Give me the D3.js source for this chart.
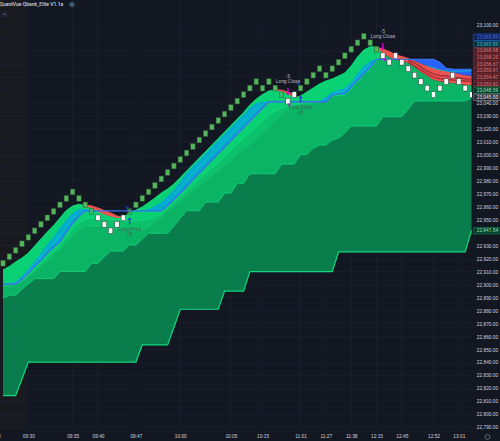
<!DOCTYPE html>
<html>
<head>
<meta charset="utf-8">
<script src="https://cdn.jsdelivr.net/npm/d3@7/dist/d3.min.js"></script>
<style>
html,body{margin:0;padding:0;background:#131722;overflow:hidden}
svg{display:block;font-family:Roboto,"Noto Sans",sans-serif}
.domain{display:none}
</style>
</head>
<body>
<svg id="c" width="500" height="441"></svg>
<script>
const title = "QuantVue Qbank_Elite V1.1a";
const brickMid = [22916.5,22921.5,22926.5,22931.5,22936.5,22941.5,22946.5,22951.5,22956.5,22961.5,22966.5,22971.5,22966.5,22961.5,22956.5,22951.5,22946.5,22941.5,22946.5,22951.5,22956.5,22961.5,22966.5,22971.5,22976.5,22981.5,22986.5,22991.5,22996.5,23001.5,23006.5,23011.5,23016.5,23021.5,23026.5,23031.5,23036.5,23041.5,23046.5,23051.5,23056.5,23051.5,23056.5,23051.5,23046.5,23041.5,23046.5,23051.5,23056.5,23061.5,23066.5,23061.5,23066.5,23071.5,23076.5,23081.5,23086.5,23091.5,23086.5,23081.5,23076.5,23071.5,23076.5,23071.5,23066.5,23061.5,23056.5,23051.5,23046.5,23051.5,23056.5,23061.5,23056.5,23051.5,23046.5];
const whiteBricks = [15,16,17,18,19,45,46,60,61,62,63,64,65,66,67,68,69,70,71,72,73,74];
const lowLine = [22814.4,22814.4,22814.4,22827.2,22840.3,22840.3,22840.3,22840.3,22840.3,22840.3,22840.3,22840.3,22840.3,22840.3,22840.3,22840.3,22840.3,22840.3,22840.3,22840.3,22840.3,22840.3,22853.5,22853.5,22853.5,22853.5,22853.5,22867,22881,22881,22881,22881,22881,22881,22881,22895,22895,22895,22895,22910,22910,22910,22910,22910,22910,22910,22910,22910,22910,22910,22910,22910,22910,22925.2,22925.2,22925.2,22925.2,22925.2,22925.2,22925.2,22925.2,22925.2,22925.2,22925.2,22925.2,22925.2,22925.2,22925.2,22925.2,22925.2,22925.2,22925.2,22925.2,22925.2,22941.54];
const stepLine = [22889.7,22891.8,22891.8,22896.6,22900.5,22904.6,22904.6,22904.6,22904.6,22910.1,22910.1,22910.1,22910.1,22910.1,22916.4,22916.4,22921.3,22925.9,22925.9,22925.9,22930.6,22930.6,22935.2,22939.6,22939.6,22939.6,22939.6,22945.2,22951.4,22957,22957,22957,22963.7,22963.7,22963.7,22970.6,22970.6,22978.1,22978.1,22985.5,22985.5,22985.5,22985.5,22985.5,22993,22993,22993,23000.2,23000.2,23005.3,23007.7,23007.7,23011.5,23013,23016.9,23022.3,23022.3,23022.3,23022.3,23022.3,23029.5,23029.5,23029.5,23029.5,23035.4,23041.6,23041.6,23041.6,23041.6,23041.6,23041.6,23041.6,23041.6,23041.6,23044.1];
const ribbonTop = [22911.3,22914,22917.5,22920.5,22924.4,22929.8,22935.2,22940.6,22945.6,22951.4,22957.2,22960.6,22962,22961,22958.7,22956.4,22954.1,22952.5,22951.4,22952.2,22955.2,22957.5,22959.9,22963.3,22966.8,22970.7,22973.7,22977.6,22982.6,22987.6,22992.6,22997.6,23002.6,23007.7,23012.7,23017.7,23022.7,23027.7,23032.7,23038.5,23043.1,23046.6,23049.3,23050.1,23048.9,23047,23043.9,23045.4,23048.5,23051.6,23054.7,23057,23058.6,23060.9,23063.2,23068.6,23075.5,23080.9,23083.5,23083.2,23078.6,23075.5,23073.2,23072.4,23070.9,23067.8,23064,23060.9,23057.8,23056.8,23056,23055.4,23054.8,23054.2,23053.8];
const ribbonBase = [22898.6,22899,22899.3,22902,22905.9,22909.7,22913.6,22917.5,22922.1,22926.7,22932.1,22937.5,22942.1,22944.4,22945.2,22945.2,22944.4,22943.7,22942.9,22942.1,22941.4,22941.4,22942.1,22944.4,22947.5,22951.4,22956.8,22960.6,22964.5,22968.3,22972.2,22976,22979.9,22983.8,22987.6,22991.5,22995.3,22999.9,23003.8,23007.7,23011.5,23016.1,23020.8,23026.2,23030.8,23034.7,23037,23038.5,23039.3,23040.1,23040.8,23041,23044.7,23045.4,23045.4,23050.1,23055.5,23060.9,23065.5,23071.7,23078.6,23075.5,23073.2,23072.4,23070.9,23067.8,23064,23060.9,23057.8,23056.8,23056,23055.4,23054.8,23054.2,23053.8];
const blueLine = [22900.5,22900.5,22900.5,22904.3,22909,22914.4,22919,22924.4,22929,22933.1,22940.6,22947.5,22952.9,22956.8,22956.8,22956.8,22956.8,22956.8,22956.8,22956.8,22956.8,22956.8,22956.8,22956.8,22956.8,22956.8,22961,22965.6,22970.7,22975.7,22981.1,22986.1,22991.1,22996.1,23001.1,23006.1,23011.1,23016.1,23021.2,23026.2,23031.2,23036.2,23041,23041,23041,23041,23041,23041,23041,23041,23041,23041,23046.2,23047,23047,23052.4,23057.8,23062.8,23067.8,23073.7,23073.7,23073.7,23073.7,23073.7,23073.7,23073.7,23073.7,23073.7,23073.7,23071.3,23066.7,23066.2,23066,23065.9,23065.89];
const cyanTop = [22900.5,22900.5,22902,22906.7,22912.1,22918.3,22924.4,22931.3,22936.7,22943.7,22949.8,22955.2,22958.3,22958.3,22956.8,22956.8,22956.8,22956.8,22956.8,22956.8,22956.8,22956.8,22956.8,22958.3,22960.7,22963.7,22968.3,22973,22979.5,22986.1,22991.1,22996.1,23001.1,23006.1,23011.1,23016.1,23021.2,23026.2,23031.2,23036.2,23040.1,23041,23041,23041,23041,23041,23041,23041,23041,23041,23041.6,23044.7,23048.6,23050.1,23051.6,23056.2,23063.2,23068.6,23072.4,23073.7,23073.7,23073.7,23073.7,23073.7,23073.7,23073.7,23073.7,23073.7,23073.7,23071.3,23066.7,23066.2,23066,23065.9,23065.89];
const lightLow = [22900.5,22900.5,22901,22903.1,22907.5,22912,22916.3,22921,22925.5,22930,22936,22942.5,22947.5,22950.5,22951,22951,22950.6,22950.2,22949.8,22949.4,22949,22949,22949.4,22950.6,22952,22954,22958.9,22963.1,22967.6,22972,22976.7,22981.1,22985.5,22990,22994.4,22998.8,23003.2,23008,23012.5,23017,23021.4,23026.2,23031,23033.6,23036,23038,23039,23040,23040.5];
const lightCyan = [null,null,null,22905.5,22910.5,22916.3,22921.7,22927.8,22932.8,22938.4,22945,22951,22955.5,null,null,null,null,null,null,null,null,null,null,null,null,null,null,22969.3,22975,22981,22986,22991,22996,23001,23006,23011,23016,23021,23026,23031,23036,23038.6,null,null,null,null,null,null,null,null,null,null,23047,23048.5,23049.3,23054.3,23060.5,23065.7,23070];
const redStartDip = 13;
const redTopDip = [22961.8,22961,22959.5,22957.5,22955.6,22953.3,22952.2];
const redStartMid = 43;
const redTopMid = [23050.6,23050.2,23049,23047];
const redStartEnd = 59;
const redTopEnd = [23083.2,23082.1,23080.1,23077.4,23076.3,23074.7,23072.8,23070.5,23068.6,23067,23066,23065,23063.5,23062.5,23061.5,23060.98];
const darkStart = 64;
const darkRedA = [23073.2,23070.9,23067.8,23064.7,23062.4,23061.2,23060.9,23060,23059.4,23058.8,23058.2];
const darkRedB = [23071.5,23068.5,23065.5,23062.5,23060,23058.8,23058.3,23057.8,23057.4,23057,23056.67];
const tealStart = 67;
const tealTrail = [23069,23067,23065.5,23064.7,23064.5,23064.5,23064.7,23064.8];
const gridTicks = d3.range(22790, 23101, 10);
const priceTicks = [22790,22800,22810,22820,22830,22840,22850,22860,22870,22880,22890,22900,22910,22920,22930,22950,22960,22970,22980,22990,23000,23010,23020,23030,23040,23100];
const timeLabels = ["2","09:30","09:35","09:40","09:47","10:00","10:05","10:15","11:01","11:27","11:38","12:15","12:45","12:52","13:01"];
const timeIndex = [-0.6,4,11,15,21,28,36,41,47,51,55,59,63,68,72];
const priceTags = [23065.89,23065.89,23060.98,23058.20,23056.67,23055.91,23054.47,23053.82,23048.59,23045.00];
const tagOrderY = [37.3,44.3,50.7,57.3,64,70.7,77.3,84,90.3,97.3];
const tagKinds = ["blue","teal","red","red","red","red","red","red","green","grey"];
const lowTag = 22941.54;
const closeMarks = [{i:45,level:23046.5,text:"Long Close",qty:"-5"},{i:60,level:23087,text:"Long Close",qty:"-5"}];
const entryMarks = [{i:20,level:22951.4,text:"Long Entry",qty:"+5"},{i:47,level:23045.4,text:"Long Entry",qty:"+5"}];
const smallMagenta = [[45.3,23038.5],[60.4,23073.5]];
const smallBlue = [[19.7,22959.3],[46.7,23055]];

const W=500,H=441,right=472,bottom=430;
const svg=d3.select("#c");
const x=d3.scaleLinear().domain([0,74]).range([3,471.5]);
const y=d3.scaleLinear().domain([22790,23100]).range([427.3,25.23]);
const n=brickMid.length, idx=d3.range(n);

svg.append("rect").attr("width",W).attr("height",H).attr("fill","#131722");
svg.append("rect").attr("width",x(3.85)).attr("height",bottom).attr("fill","#181a20");

const grid=svg.append("g");
grid.selectAll(".h").data(gridTicks).join("line").attr("x1",0).attr("x2",right)
  .attr("y1",d=>y(d)).attr("y2",d=>y(d)).attr("stroke","#1c2130").attr("stroke-width",.8);
grid.selectAll(".v").data(timeIndex.slice(1)).join("line").attr("y1",0).attr("y2",bottom)
  .attr("x1",d=>x(d)).attr("x2",d=>x(d)).attr("stroke","#1c2130").attr("stroke-width",.8);

svg.append("defs").append("clipPath").attr("id","plot").append("rect").attr("width",right).attr("height",bottom);
const plot=svg.append("g").attr("clip-path","url(#plot)");

const band=(hi,lo,start=0)=>d3.area().x((d,i)=>x(i+start)).y1(d=>y(hi(d))).y0(d=>y(lo(d)));
const pairs=(a,b)=>a.map((v,i)=>[v,b[i]]);
const fill=(a,b,c,start=0,op=1)=>plot.append("path").datum(pairs(a,b))
   .attr("d",band(d=>d[0],d=>d[1],start)).attr("fill",c).attr("fill-opacity",op);
const line=(a,c,w,start=0,op=1)=>plot.append("path").datum(a)
   .attr("d",d3.line().defined(d=>d!=null).x((d,i)=>x(i+start)).y(d=>y(d)))
   .attr("fill","none").attr("stroke",c).attr("stroke-width",w).attr("stroke-opacity",op);

fill(stepLine,lowLine,"#0a7d4c");
fill(ribbonBase,stepLine,"#0ab464");
fill(ribbonTop,ribbonBase,"#0bc26b");
fill(ribbonTop.slice(0,lightLow.length),lightLow,"#0ad174");
fill(ribbonTop.slice(lightLow.length-1),ribbonBase.slice(lightLow.length-1),"#0ad174",lightLow.length-1);
fill(cyanTop,blueLine,"#02abd0");
line(lightLow,"#2fe08e",.6,0,.6);
line(lightCyan,"#22d6a8",.7,0,.8);
line(ribbonTop.slice(0,60),"#10e07c",.8);
line(ribbonBase.slice(0,52),"#1fd884",.8,0,.7);

fill(redTopDip,ribbonTop.slice(redStartDip,redStartDip+redTopDip.length),"#ef5350",redStartDip);
fill(redTopMid,ribbonTop.slice(redStartMid,redStartMid+redTopMid.length),"#ef5350",redStartMid);
fill(redTopEnd,ribbonTop.slice(redStartEnd),"#ef5350",redStartEnd);
const blueSpan=blueLine.slice(redStartEnd);
fill(blueSpan,blueSpan.map((b,i)=>Math.min(b,redTopEnd[i])),"#2962ff",redStartEnd);
line(darkRedA,"#a92f3b",1.5,darkStart);
line(darkRedB,"#a92f3b",1.5,darkStart);
line(tealTrail,"#12b8c8",1,tealStart);

line(lowLine,"#10d87c",1.2);
line(stepLine,"#12cf78",1);
line(blueLine,"#3670f0",1.3);

const white=new Set(whiteBricks);
plot.selectAll(".brick").data(idx).join("rect")
  .attr("x",i=>x(i)-2.2).attr("width",4.4)
  .attr("y",i=>y(brickMid[i]+2.2))
  .attr("height",y(22790)-y(22794.4))
  .attr("fill",i=>white.has(i)?"#fafafa":"#55b55c")
  .attr("fill-opacity",i=>(!white.has(i)&&[14,20,44].includes(i))?.55:1)
  .attr("stroke",i=>white.has(i)?"#2a3a35":"#2c5c35").attr("stroke-width",.5);

const arrow=(g,cx,topY,botY,dir,c,w=1.4,h=2)=>{
  g.append("line").attr("x1",cx).attr("x2",cx).attr("y1",topY).attr("y2",botY).attr("stroke",c).attr("stroke-width",w);
  const tip=dir>0?botY:topY;
  g.append("path").attr("d",d3.line()([[cx-h,tip-dir*h],[cx,tip+dir*.4],[cx+h,tip-dir*h]])).attr("fill",c);
};
const ann=svg.append("g").attr("clip-path","url(#plot)");
closeMarks.forEach(m=>{
  const cx=x(m.i), ty=m.i===45?y(m.level)-7.5:y(m.level);
  arrow(ann,cx,ty+1,ty+7.5,1,"#d500d8");
  ann.append("text").attr("x",cx).attr("y",ty-5.5).attr("text-anchor","middle").attr("dy",".35em")
    .attr("font-size",4.9).attr("fill","#b2b5be").text(m.text);
  ann.append("text").attr("x",cx).attr("y",ty-11).attr("text-anchor","middle").attr("dy",".35em")
    .attr("font-size",4.9).attr("fill","#b2b5be").text(m.qty);
});
entryMarks.forEach(m=>{
  const cx=x(m.i), ty=y(m.level);
  arrow(ann,cx,ty,ty+6.5,-1,"#1c46c8");
  ann.append("text").attr("x",cx).attr("y",ty+11).attr("text-anchor","middle").attr("dy",".35em")
    .attr("font-size",4.9).attr("fill","#3f5f52").text(m.text);
  ann.append("text").attr("x",cx).attr("y",ty+16.5).attr("text-anchor","middle").attr("dy",".35em")
    .attr("font-size",4.9).attr("fill","#3f5f52").text(m.qty);
});
const tri=d=>d3.line()([[x(d[0])-1.2,y(d[1])-2],[x(d[0])+1.2,y(d[1])],[x(d[0])-1.2,y(d[1])+2]]);
ann.selectAll(".sm").data(smallMagenta).join("path").attr("d",tri).attr("fill","#d500d8");
ann.selectAll(".sb").data(smallBlue).join("path").attr("d",tri).attr("fill","#1c46c8");

// price axis
const axisY=svg.append("g").attr("transform",`translate(${right+4.8},0)`)
  .call(d3.axisRight(y).tickValues(priceTicks).tickFormat(d3.format(",.2f")).tickSize(0).tickPadding(0));
axisY.selectAll("text").attr("font-size",4.8).attr("fill","#d1d4dc").attr("font-weight",500);

// time axis
const axisX=svg.append("g").attr("transform",`translate(0,434.6)`)
  .call(d3.axisBottom(x).tickValues(timeIndex).tickFormat((d,i)=>timeLabels[i]).tickSize(0).tickPadding(0));
axisX.selectAll("text").attr("font-size",4.8).attr("fill","#d1d4dc").attr("font-weight",500);

// price tags
const tagStyle={blue:["#10204e","#2962ff","#3a67d8"],teal:["#06303c","#0f7f8f","#3fa9b8"],red:["#4d1f26","#8a2c34","#d66a6a"],green:["#073d2a","#0b8a55","#7fd8a8"],grey:["#2a2c33","#9598a1","#d1d4dc"]};
const tags=svg.append("g");
const drawTag=(label,cy,s)=>{
  tags.append("rect").attr("x",right+1.3).attr("y",cy-3.2).attr("width",W-right-1.3).attr("height",6.4).attr("rx",.8)
    .attr("fill",s[0]).attr("stroke",s[1]).attr("stroke-width",.6);
  tags.append("text").attr("x",right+4.8).attr("y",cy).attr("dy",".35em").attr("font-size",4.8).attr("fill",s[2]).attr("font-weight",500)
    .text(d3.format(",.2f")(label));
};
priceTags.forEach((p,i)=>drawTag(p,tagOrderY[i],tagStyle[tagKinds[i]]));
drawTag(lowTag,y(lowTag),tagStyle.green);

// header
svg.append("text").attr("x",-0.5).attr("y",4.6).attr("dy",".35em").attr("font-size",5).attr("font-weight",500).attr("fill","#d1d4dc").text(title);
svg.append("circle").attr("cx",72).attr("cy",4.5).attr("r",2.6).attr("fill","#3b5a78");
svg.append("rect").attr("x",-3).attr("y",10.5).attr("width",12).attr("height",7.5).attr("rx",1.5).attr("fill","#1b1f2b");
svg.append("path").attr("d","M2.8 15 L4.5 13.4 L6.2 15").attr("fill","none").attr("stroke","#9598a1").attr("stroke-width",.6);
svg.append("circle").attr("cx",487.5).attr("cy",437).attr("r",2.4).attr("fill","none").attr("stroke","#9598a1").attr("stroke-width",.6);
</script>
</body>
</html>
